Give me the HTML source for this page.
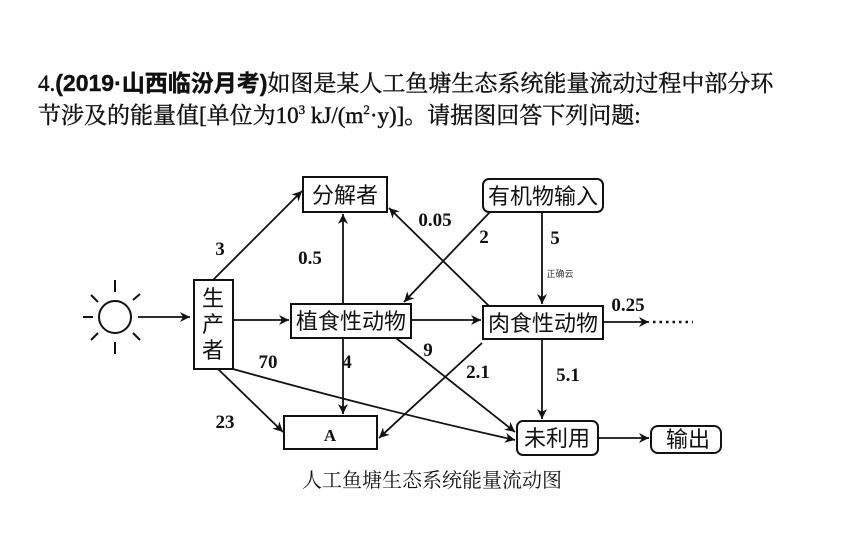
<!DOCTYPE html>
<html><head><meta charset="utf-8"><style>
html,body{margin:0;padding:0;background:#fff;}
svg{display:block;}
</style></head><body>
<svg width="860" height="538" viewBox="0 0 860 538" xmlns="http://www.w3.org/2000/svg">
<defs>
<marker id="a" viewBox="0 0 10 10" refX="10" refY="5" markerWidth="12" markerHeight="10" markerUnits="userSpaceOnUse" orient="auto"><path d="M0,0 L10,5 L0,10 L3,5 z" fill="#111"/></marker>
</defs>
<rect width="860" height="538" fill="#fff"/>
<g font-family="'Liberation Serif','Noto Serif CJK SC','Noto Sans CJK SC',serif" fill="#111" stroke="#111" stroke-width="0.4">
<text x="38" y="91" font-size="23">4.<tspan font-family="'Liberation Sans','Noto Sans CJK SC',sans-serif" font-weight="bold">(2019·山西临汾月考)</tspan>如图是某人工鱼塘生态系统能量流动过程中部分环</text>
<text x="38" y="123" font-size="23">节涉及的能量值[单位为10<tspan font-size="13" dy="-9">3</tspan><tspan dy="9"> kJ/(m</tspan><tspan font-size="13" dy="-9">2</tspan><tspan dy="9">·y)]。请据图回答下列问题:</tspan></text>
</g>
<g stroke="#111" stroke-width="2" fill="none">
<circle cx="115" cy="317" r="16"/>
<line x1="115" y1="280" x2="115" y2="292"/><line x1="115" y1="342" x2="115" y2="354"/>
<line x1="83" y1="317" x2="93" y2="317"/>
<line x1="91" y1="295" x2="98" y2="302"/><line x1="140" y1="294" x2="133" y2="300"/>
<line x1="91" y1="340" x2="98" y2="333"/><line x1="140" y1="340" x2="133" y2="333"/>
<rect x="303" y="177" width="84" height="35"/>
<rect x="194" y="280" width="39" height="89"/>
<rect x="291" y="304" width="120" height="34"/>
<rect x="284" y="416" width="93" height="33"/>
<rect x="483" y="179" width="120" height="33" rx="6"/>
<rect x="483" y="306" width="120" height="33"/>
<rect x="517" y="421" width="81" height="34" rx="6"/>
<rect x="651" y="426" width="70" height="27" rx="7"/>
</g>
<g stroke="#111" stroke-width="1.8" fill="none" marker-end="url(#a)">
<line x1="138" y1="317" x2="190" y2="317"/>
<line x1="213" y1="280" x2="302" y2="191"/>
<line x1="343" y1="304" x2="343" y2="214"/>
<line x1="489" y1="306" x2="389" y2="208"/>
<line x1="490" y1="212" x2="404" y2="302"/>
<line x1="542" y1="212" x2="542" y2="304"/>
<line x1="233" y1="320" x2="289" y2="320"/>
<line x1="411" y1="320" x2="481" y2="320"/>
<line x1="343" y1="338" x2="343" y2="414"/>
<line x1="396" y1="338" x2="515" y2="432"/>
<line x1="482" y1="343" x2="379" y2="438"/>
<line x1="542" y1="339" x2="542" y2="419"/>
<path d="M233,369 Q380,410 515,440"/>
<line x1="218" y1="369" x2="283" y2="432"/>
<line x1="598" y1="438" x2="649" y2="438"/>
<line x1="603" y1="322" x2="649" y2="322"/>
</g>
<line x1="653" y1="322" x2="693" y2="322" stroke="#111" stroke-width="2.5" stroke-dasharray="2.5,4"/>
<g font-family="'Liberation Sans','Noto Sans CJK SC',sans-serif" fill="#111" font-size="22" text-anchor="middle">
<text x="345" y="203">分解者</text>
<text x="213" y="306">生</text><text x="213" y="332">产</text><text x="213" y="358">者</text>
<text x="351" y="329">植食性动物</text>
<text x="543" y="204">有机物输入</text>
<text x="543" y="331">肉食性动物</text>
<text x="557" y="446">未利用</text>
<text x="688" y="447">输出</text>
<text x="432" y="487" font-family="'Liberation Serif','Noto Serif CJK SC',serif" font-size="20">人工鱼塘生态系统能量流动图</text>
</g>
<g font-family="'Liberation Serif',serif" fill="#111" font-size="19" font-weight="bold" text-anchor="middle">
<text x="330" y="441" font-size="17">A</text>
<text x="220" y="255">3</text>
<text x="310" y="264">0.5</text>
<text x="435" y="226">0.05</text>
<text x="484" y="243">2</text>
<text x="555" y="244">5</text>
<text x="628" y="311">0.25</text>
<text x="268" y="368">70</text>
<text x="347" y="368">4</text>
<text x="428" y="356">9</text>
<text x="478" y="378">2.1</text>
<text x="568" y="381">5.1</text>
<text x="225" y="428">23</text>
</g>
<text x="560" y="277" font-family="'Noto Sans CJK SC',sans-serif" font-size="9" fill="#333" text-anchor="middle">正确云</text>
</svg>
</body></html>
